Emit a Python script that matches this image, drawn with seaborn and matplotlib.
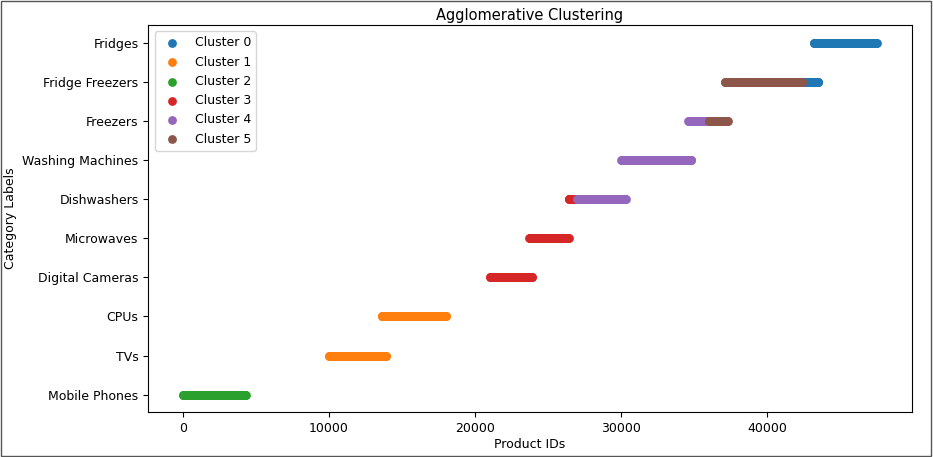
import numpy as np
import pandas as pd
import seaborn as sns
import matplotlib
matplotlib.use("Agg")
import matplotlib.pyplot as plt

plt.rcParams["font.size"] = 9

categories = ["Mobile Phones", "TVs", "CPUs", "Digital Cameras", "Microwaves",
              "Dishwashers", "Washing Machines", "Freezers", "Fridge Freezers", "Fridges"]
# segments: (category, cluster, first product id, last product id)
seg_category = ["Mobile Phones", "TVs", "CPUs", "Digital Cameras", "Microwaves",
                "Dishwashers", "Dishwashers", "Washing Machines", "Freezers", "Freezers",
                "Fridge Freezers", "Fridge Freezers", "Fridges"]
seg_cluster = [2, 1, 1, 3, 3, 3, 4, 4, 4, 5, 0, 5, 0]
seg_start = [0, 10000, 13600, 21000, 23700, 26400, 27000, 30000, 34600, 36000, 42400, 37100, 43200]
seg_end = [4300, 13900, 18000, 23900, 26400, 27000, 30300, 34800, 36000, 37300, 43500, 42400, 47500]

rows = []
for c, k, a, b in zip(seg_category, seg_cluster, seg_start, seg_end):
    ids = np.arange(a, b + 1, 25)
    rows.append(pd.DataFrame({"id": ids, "y": categories.index(c), "cluster": f"Cluster {k}"}))
df = pd.concat(rows)
order = [f"Cluster {i}" for i in range(6)]
palette = dict(zip(order, sns.color_palette("tab10", 6)))

fig = plt.figure(figsize=(9.33, 4.57), dpi=100)
ax = fig.add_axes([0.159, 0.098, 0.818, 0.847])
for name in order:
    sub = df[df.cluster == name]
    ax.scatter(sub.id, sub.y, s=40, color=palette[name], label=name, linewidths=0)
ax.set_yticks(range(len(categories)))
ax.set_yticklabels(categories)
ax.set_xlabel("Product IDs", labelpad=2)
ax.set_ylabel("Category Labels")
ax.set_title("Agglomerative Clustering", fontsize=10.5, pad=4)
ax.legend(loc="upper left")
fig.patches.append(plt.Rectangle((0.001, 0.002), 0.997, 0.996, transform=fig.transFigure,
                                 fill=False, edgecolor="#555555", linewidth=1))
fig.savefig("out.png", dpi=100)
